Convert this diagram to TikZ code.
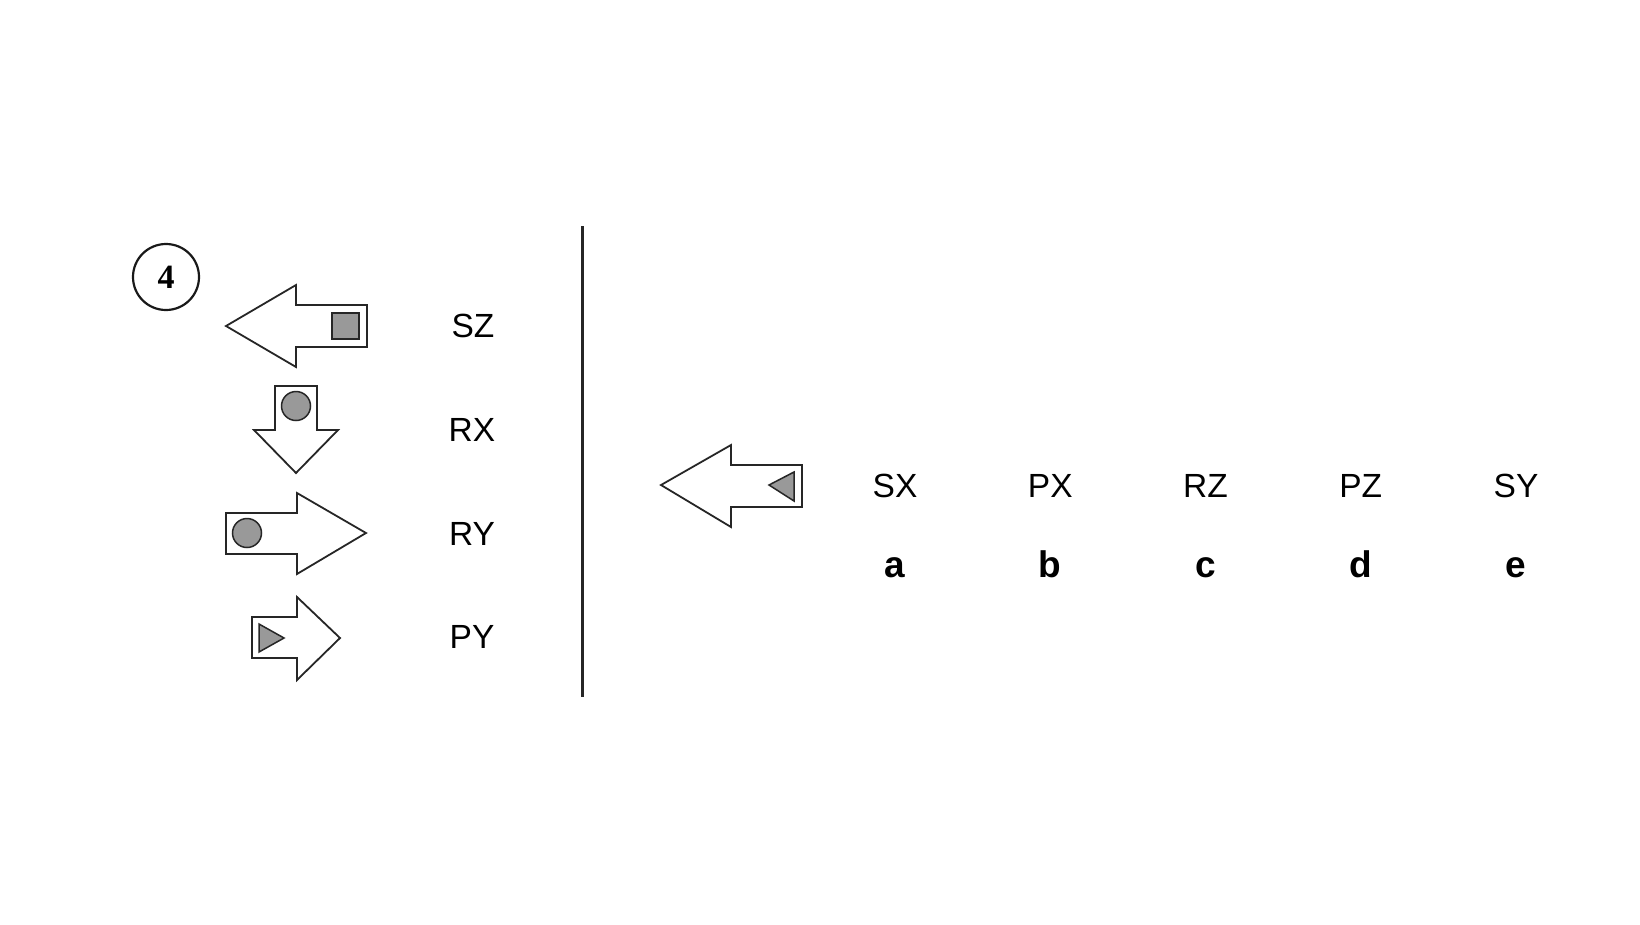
\documentclass[tikz,border=0pt]{standalone}
\usepackage{fontspec}
\setmainfont{Liberation Sans}
\newfontfamily\numfont{Liberation Serif}
\tikzset{
  blockarrow/.style = {draw=black!85, line width=1.8pt, fill=white,
    line join=miter},% grande fleche blanche
  markfill/.style = {draw=black!85, line width=1.5pt, fill=black!40},% marque grise
  axislabel/.style = {inner sep=0pt, anchor=base,
    font=\fontsize{33.5}{40}\selectfont},% SZ, RX, ...
  choicelabel/.style = {inner sep=0pt, anchor=base,
    font=\fontsize{37}{44}\selectfont\bfseries},% a, b, ...
  numcircle/.style = {circle, draw=black!90, line width=2.2pt,
    minimum size=66pt, inner sep=0pt,
    font=\numfont\bfseries\fontsize{34}{40}\selectfont}
}

\begin{document}
\begin{tikzpicture}[x=1pt, y=-1pt]
      \useasboundingbox (0,0) rectangle (1640,924);
      \node [numcircle] (num) at (166,277) {4};
      % fleches de la question
      \draw [blockarrow] (226,326) -- (296,285) -- (296,305) -- (367,305)
          -- (367,347) -- (296,347) -- (296,367) -- cycle;
      \draw [markfill] (332,313) rectangle (359,339);
      \draw [blockarrow] (296,473) -- (254,430) -- (275,430) -- (275,386)
          -- (317,386) -- (317,430) -- (338,430) -- cycle;
      \draw [markfill] (296,406) circle (14.5);
      \draw [blockarrow] (366,533) -- (297,493) -- (297,513) -- (226,513)
          -- (226,554) -- (297,554) -- (297,574) -- cycle;
      \draw [markfill] (247,533) circle (14.5);
      \draw [blockarrow] (340,638) -- (297,597) -- (297,617) -- (252,617)
          -- (252,658) -- (297,658) -- (297,680) -- cycle;
      \draw [markfill] (259,624) -- (284,638) -- (259,652) -- cycle;
      \node [axislabel] (sz) at (473,337) {SZ};
      \node [axislabel] (rx) at (472,441) {RX};
      \node [axislabel] (ry) at (472,545) {RY};
      \node [axislabel] (py) at (472,648) {PY};
      % separation
      \coordinate (septop) at (582,226);
      \coordinate (sepbot) at (582,697);
      \draw [line width=3pt, black!85] (septop) -- (sepbot);
      % fleche a trouver et reponses
      \draw [blockarrow] (661,485) -- (731,445) -- (731,465) -- (802,465)
          -- (802,507) -- (731,507) -- (731,527) -- cycle;
      \draw [markfill] (769,485) -- (794,472) -- (794,501) -- cycle;
      \foreach \lab/\ltr [count=\i] in {SX/a, PX/b, RZ/c, PZ/d, SY/e}{
        \node [axislabel] (lab\i) at ({895+155.25*(\i-1)},497) {\lab};
        \node [choicelabel] (ltr\i) at ({895+155.25*(\i-1)},577) {\ltr};
      }
\end{tikzpicture}
\end{document}
